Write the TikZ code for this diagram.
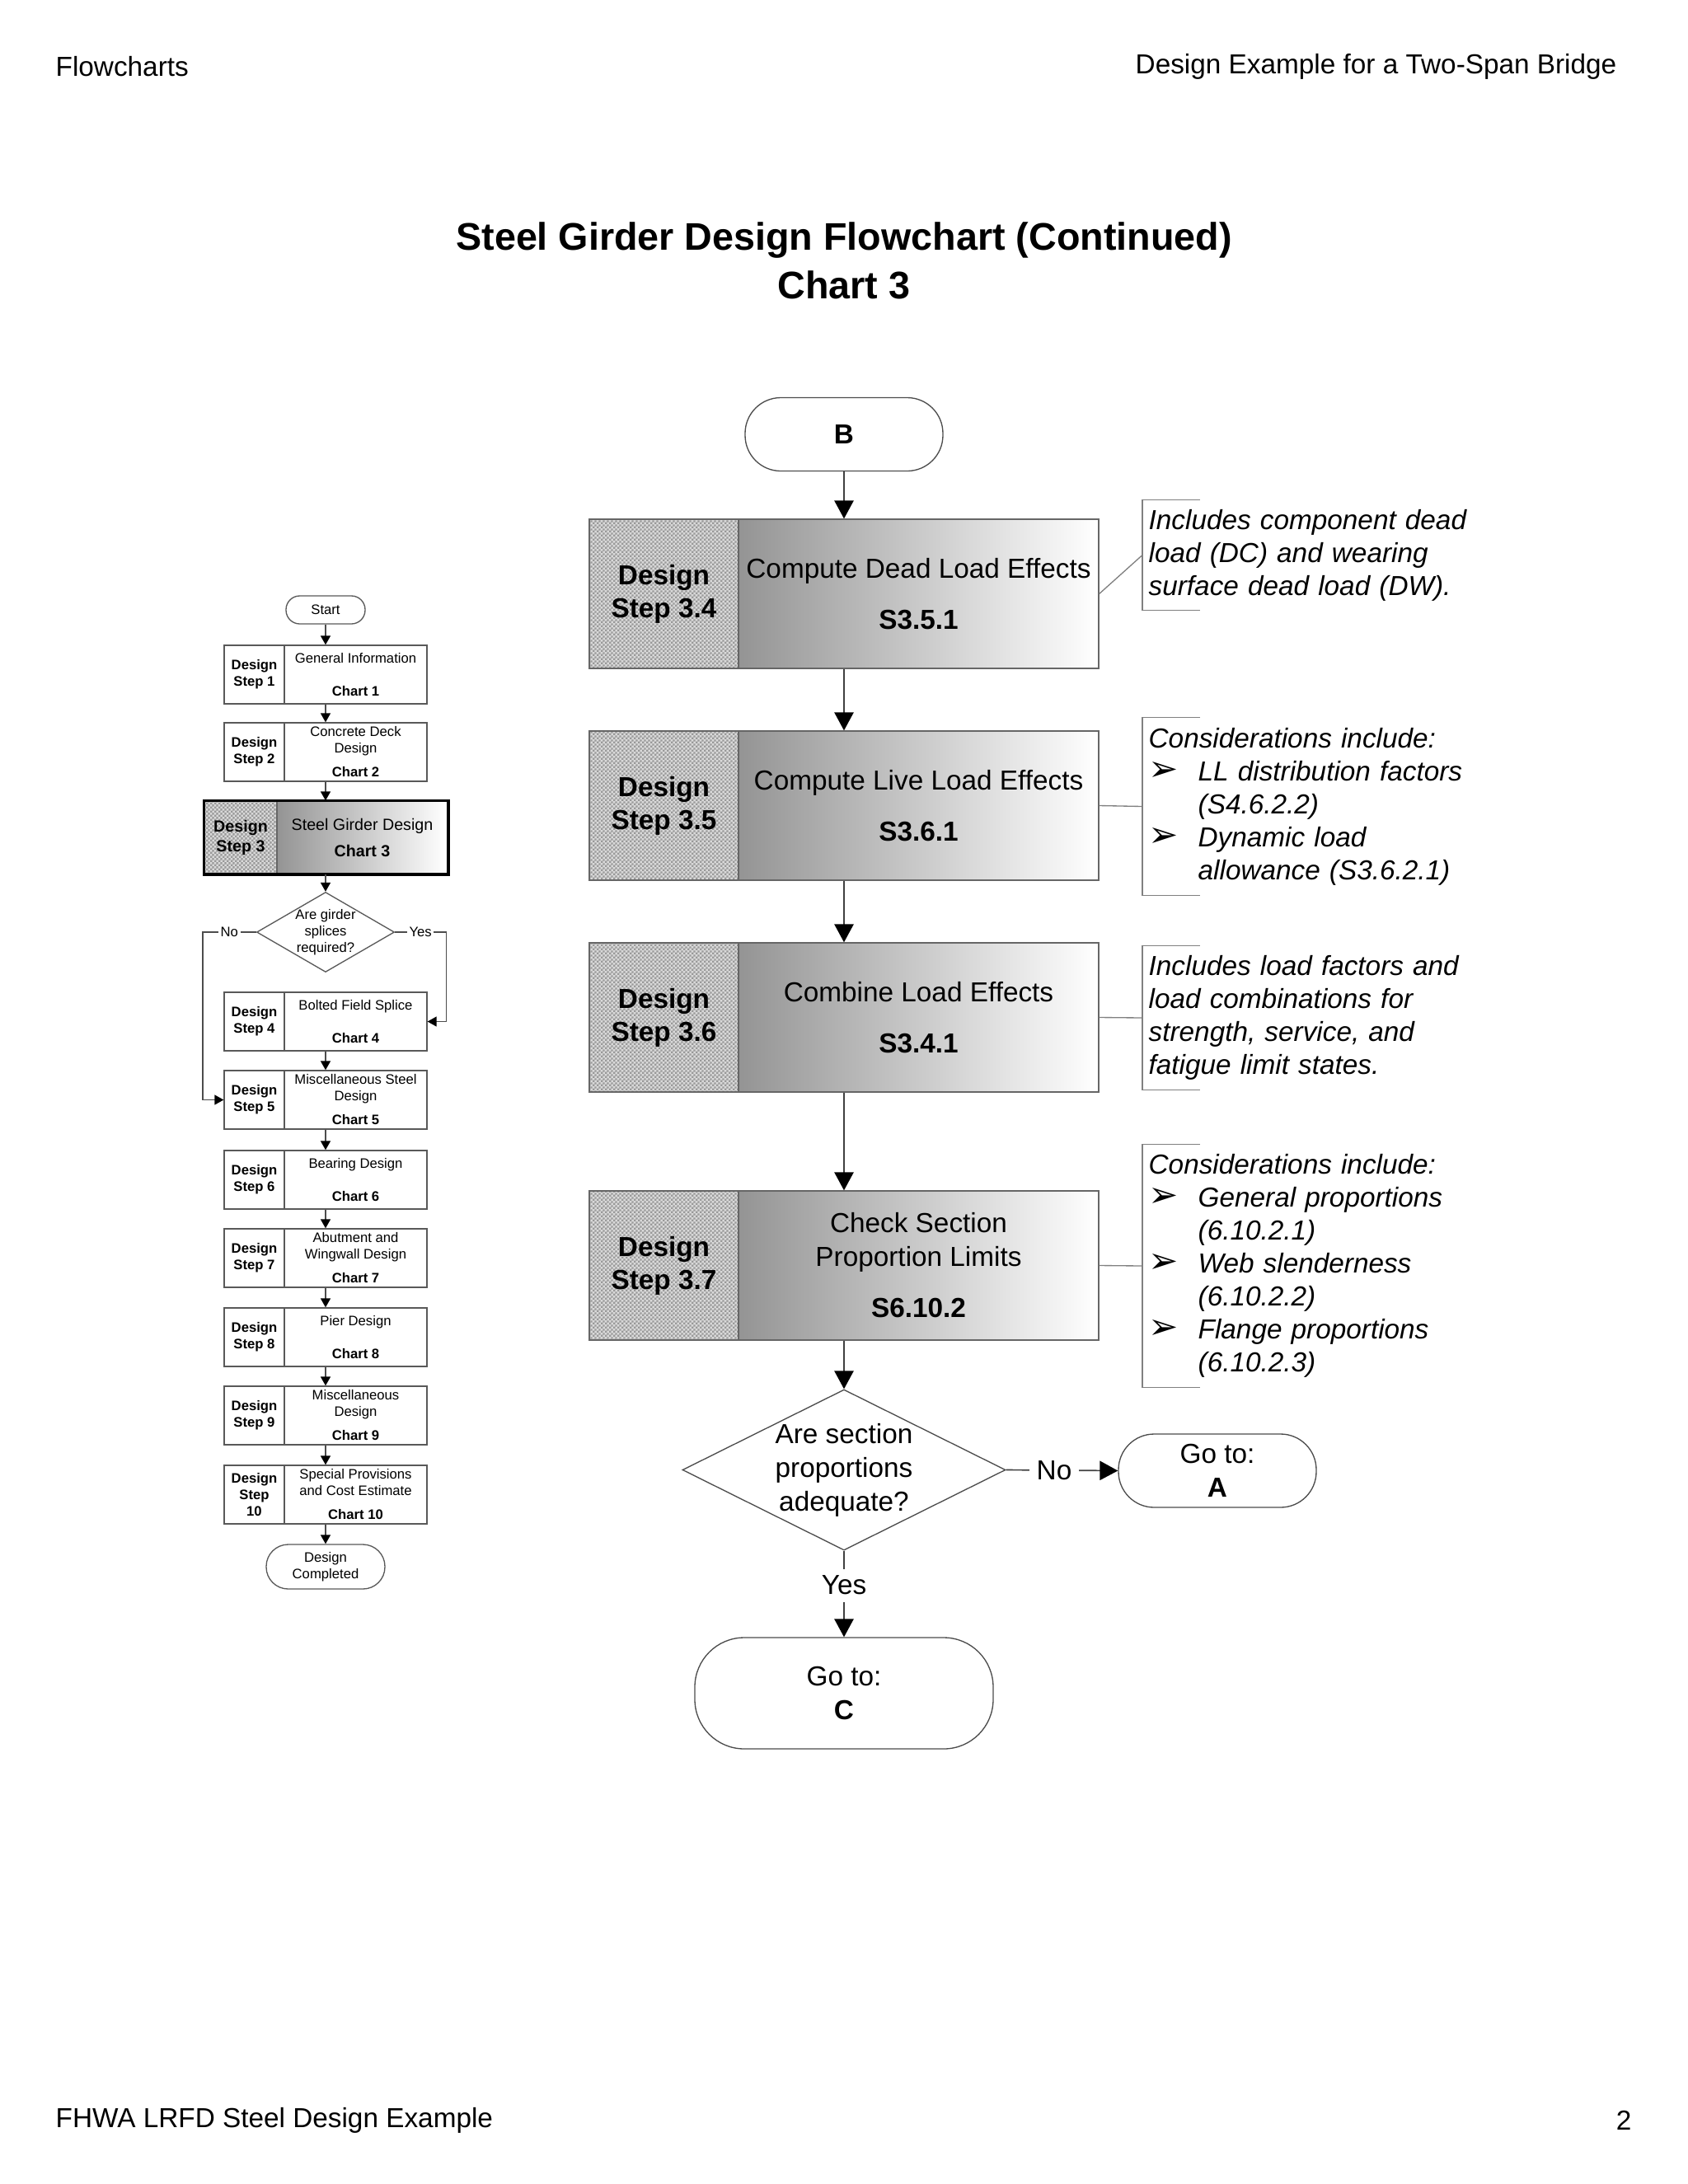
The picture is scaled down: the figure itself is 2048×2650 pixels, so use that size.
\documentclass[tikz,border=0pt]{standalone}
\usepackage{fontspec}
\setmainfont{Liberation Sans}
\newfontfamily\dingfont{DejaVu Sans}
\usetikzlibrary{shapes.geometric,arrows.meta,patterns}

\pgfdeclarepatternformonly{finecheck}{\pgfpointorigin}{\pgfqpoint{1.6pt}{1.6pt}}{\pgfqpoint{1.6pt}{1.6pt}}{%
  \pgfpathrectangle{\pgfpointorigin}{\pgfqpoint{0.8pt}{0.8pt}}%
  \pgfpathrectangle{\pgfqpoint{0.8pt}{0.8pt}}{\pgfqpoint{0.8pt}{0.8pt}}%
  \pgfusepath{fill}}

\newcommand{\notebullet}{\makebox[18pt][l]{\upshape\dingfont\fontsize{13}{12}\selectfont ➢}}
\newcommand{\noteindent}{\hspace*{18pt}}
\newcommand{\minifont}{\fontsize{5}{6}\selectfont}

\tikzset{
  stepcell/.style={draw=black!60, preaction={fill=gray!30}, pattern=finecheck, pattern color=gray!80,
    minimum width=54.3pt, minimum height=54.3pt, inner sep=0pt, align=center, font=\bfseries},
  taskcell/.style={draw=black!60, left color=black!42, right color=white,
    minimum width=131.1pt, minimum height=54.3pt, inner sep=0pt, align=center},
  term/.style={draw=black!70, rounded corners=13pt, minimum width=72pt, minimum height=26.7pt, align=center},
  decide/.style={draw=black!70, diamond, inner sep=0pt},
  note/.style={anchor=west, text width=180pt, inner xsep=2.1pt, inner ysep=0pt, align=left, font=\itshape},
  flow/.style={draw=black!75, line width=0.5pt, -{Triangle[length=6.6pt,width=7pt,color=black]}},
  bracket/.style={draw=black!50, line width=0.4pt},
  ministep/.style={draw=black!65, fill=white, minimum width=21.9pt, minimum height=21.3pt,
    inner sep=0pt, align=center, font=\minifont\bfseries},
  minitask/.style={draw=black!65, fill=white, minimum width=51.9pt, minimum height=21.3pt,
    inner sep=0pt, align=center, font=\minifont},
  miniterm/.style={draw=black!65, rounded corners=5pt, minimum width=28.8pt, minimum height=10.2pt,
    inner sep=0pt, align=center, font=\minifont},
  minilabel/.style={fill=white, inner sep=0.8pt, font=\minifont},
  miniflow/.style={draw=black!70, line width=0.4pt, -{Triangle[length=3.3pt,width=3.6pt,color=black]}},
}

\begin{document}
\begin{tikzpicture}[x=0.3pt, y=-0.3pt, font=\fontsize{10}{12.3}\selectfont]
\useasboundingbox (0,0) rectangle (2048,2650);

% page header, footer and title
\node[anchor=west, inner sep=0pt] (headl) at (67,81) {Flowcharts};
\node[anchor=east, inner sep=0pt] (headr) at (1962,81) {Design Example for a Two-Span Bridge};
\node[anchor=west, inner sep=0pt] (footl) at (67,2573) {FHWA LRFD Steel Design Example};
\node[anchor=east, inner sep=0pt] (footr) at (1980,2573) {2};
\node[align=center, font=\fontsize{14}{17.7}\selectfont\bfseries] (title) at (1024,316.5)
  {Steel Girder Design Flowchart (Continued)\\Chart 3};

% main chart
\node[term, font=\bfseries] (b) at (1024,527) {B};
\node[stepcell] (s34) at (805.5,720.5) {Design\\Step 3.4};
\node[taskcell] (t34) at (1114.5,720.5) {Compute Dead Load Effects\\[6.3pt]\textbf{S3.5.1}};
\node[stepcell] (s35) at (805.5,977.5) {Design\\Step 3.5};
\node[taskcell] (t35) at (1114.5,977.5) {Compute Live Load Effects\\[6.3pt]\textbf{S3.6.1}};
\node[stepcell] (s36) at (805.5,1234.5) {Design\\Step 3.6};
\node[taskcell] (t36) at (1114.5,1234.5) {Combine Load Effects\\[6.3pt]\textbf{S3.4.1}};
\node[stepcell] (s37) at (805.5,1535.5) {Design\\Step 3.7};
\node[taskcell] (t37) at (1114.5,1535.5) {Check Section\\Proportion Limits\\[6.3pt]\textbf{S6.10.2}};
\node[decide, minimum width=117.6pt, minimum height=58.5pt,
  label={[align=center]center:Are section\\proportions\\adequate?}] (d) at (1024,1783.5) {};
\node[term] (ga) at (1477,1784.5) {Go to:\\\textbf{A}};
\node[term, minimum width=108.6pt, minimum height=40.5pt, rounded corners=18pt] (gc) at (1024,2054.5) {Go to:\\\textbf{C}};

\draw[flow] (b) -- (b |- t34.north);
\draw[flow] (b |- t34.south) -- (b |- t35.north);
\draw[flow] (b |- t35.south) -- (b |- t36.north);
\draw[flow] (b |- t36.south) -- (b |- t37.north);
\draw[flow] (b |- t37.south) -- (d.north);
\draw[flow] (d.east) -- node[pos=0.43, fill=white, inner sep=2.5pt]{No} (ga.west);
\draw[flow] (d.south) -- node[pos=0.4, fill=white, inner sep=2.5pt]{Yes} (gc.north);

% notes
\node[note, minimum height=39.9pt] (n34) at (1386,673.5)
  {Includes component dead\\load (DC) and wearing\\surface dead load (DW).};
\node[note, minimum height=64.5pt] (n35) at (1386,978.5)
  {Considerations include:\\\notebullet LL distribution factors\\\noteindent(S4.6.2.2)\\\notebullet Dynamic load\\\noteindent allowance (S3.6.2.1)};
\node[note, minimum height=52.2pt] (n36) at (1386,1235)
  {Includes load factors and\\load combinations for\\strength, service, and\\fatigue limit states.};
\node[note, minimum height=88.2pt] (n37) at (1386,1536)
  {Considerations include:\\\notebullet General proportions\\\noteindent(6.10.2.1)\\\notebullet Web slenderness\\\noteindent(6.10.2.2)\\\notebullet Flange proportions\\\noteindent(6.10.2.3)};
\foreach \k in {34,35,36,37} {
  \draw[bracket] ([xshift=21pt]n\k.north west) -- (n\k.north west) -- (n\k.south west) -- ++(21pt,0);
  \draw[bracket] (t\k.east) -- (n\k.west);
}

% mini chart of all steps
\node[miniterm] (st) at (395,740) {Start};
\foreach \n/\y/\ttl in {1/818.5/{General Information\\[6pt]}, 2/912.5/{Concrete Deck\\Design\\[2.7pt]},
    4/1239.5/{Bolted Field Splice\\[6pt]}, 5/1334.5/{Miscellaneous Steel\\Design\\[2.7pt]},
    6/1431.5/{Bearing Design\\[6pt]}, 7/1526.5/{Abutment and\\Wingwall Design\\[2.7pt]},
    8/1622.5/{Pier Design\\[6pt]}, 9/1717.5/{Miscellaneous\\Design\\[2.7pt]}} {
  \node[ministep] (ms\n) at (308.5,\y) {Design\\Step \n};
  \node[minitask] (mt\n) at (431.5,\y) {\ttl\textbf{Chart \n}};
}
\node[ministep] (ms10) at (308.5,1813.5) {Design\\Step\\10};
\node[minitask] (mt10) at (431.5,1813.5) {Special Provisions\\and Cost Estimate\\[2.7pt]\textbf{Chart 10}};
\node[stepcell, minimum width=26.4pt, minimum height=26.4pt, font=\fontsize{5.9}{7.2}\selectfont\bfseries] (ms3) at (292,1016) {Design\\Step 3};
\node[taskcell, minimum width=62.1pt, minimum height=26.4pt, font=\fontsize{5.9}{7}\selectfont] (mt3) at (439.5,1016) {Steel Girder Design\\[2.6pt]\textbf{Chart 3}};
\draw[line width=1.1pt] (ms3.north west) rectangle (mt3.south east);
\node[decide, draw=black!65, minimum width=50.1pt, minimum height=29.1pt,
  label={[align=center, font=\minifont]center:Are girder\\splices\\required?}] (md) at (395,1131) {};
\node[miniterm, minimum width=43.2pt, minimum height=16.2pt, rounded corners=8pt] (done) at (395,1901) {Design\\Completed};

\draw[miniflow] (st) -- (st |- mt1.north);
\draw[miniflow] (st |- mt1.south) -- (st |- mt2.north);
\draw[miniflow] (st |- mt2.south) -- (st |- mt3.north);
\draw[miniflow] (st |- mt3.south) -- (md.north);
\draw[miniflow] (md.west) -- node[minilabel]{No} ([xshift=-19.5pt]md.west) |- (ms5.west);
\draw[miniflow] (md.east) -- node[minilabel]{Yes} ([xshift=18.6pt]md.east) |- (mt4.east);
\foreach \a/\b in {4/5,5/6,6/7,7/8,8/9,9/10}
  \draw[miniflow] (st |- mt\a.south) -- (st |- mt\b.north);
\draw[miniflow] (st |- mt10.south) -- (done);
\end{tikzpicture}
\end{document}
